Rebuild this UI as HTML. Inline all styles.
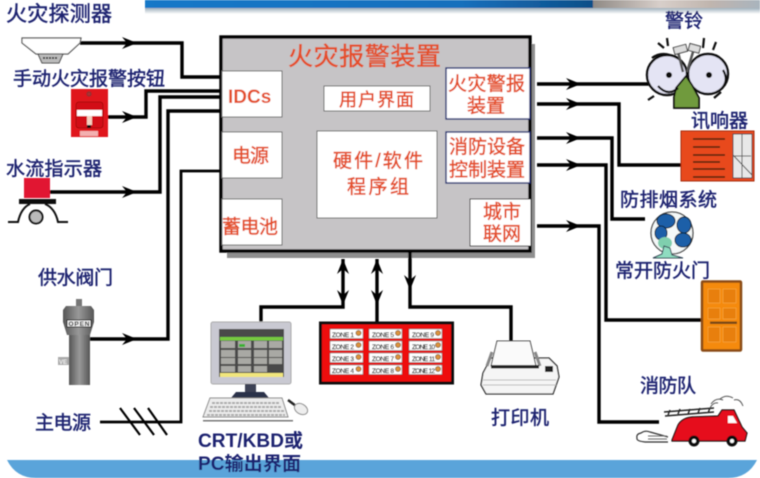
<!DOCTYPE html>
<html><head><meta charset="utf-8"><style>
html,body{margin:0;padding:0;background:#fff;width:760px;height:478px;overflow:hidden}
svg{display:block}
text{font-family:"Liberation Sans","Noto Sans CJK SC",sans-serif}
.n{fill:#1c2270;font-size:19px;stroke:#1c2270;stroke-width:.45}
.r{fill:#e4502a;font-size:19px;stroke:#e4502a;stroke-width:.5}
.w{fill:none;stroke:#000;stroke-width:3.4;stroke-linejoin:miter}
.z{font-size:6.5px;fill:#111;stroke:#111;stroke-width:.15}
</style></head><body>
<svg width="760" height="478" viewBox="0 0 760 478" xmlns="http://www.w3.org/2000/svg">
<defs>
<linearGradient id="hs" x1="0" y1="0" x2="0" y2="1"><stop offset="0" stop-color="#9fb0bd"/><stop offset="1" stop-color="#fff"/></linearGradient>
<linearGradient id="hb" x1="0" y1="0" x2="1" y2="0"><stop offset="0" stop-color="#1878c8"/><stop offset=".7" stop-color="#1670bd"/><stop offset="1" stop-color="#0f4f88"/></linearGradient>
<linearGradient id="ph" x1="0" y1="0" x2="1" y2="0"><stop offset="0" stop-color="#8f8a85"/><stop offset=".4" stop-color="#d8cfca"/><stop offset=".7" stop-color="#c0b5ae"/><stop offset="1" stop-color="#a9b4bd"/></linearGradient>
<linearGradient id="vg" x1="0" y1="0" x2="1" y2="0"><stop offset="0" stop-color="#555"/><stop offset=".5" stop-color="#999"/><stop offset="1" stop-color="#555"/></linearGradient>
<filter id="b" x="-2%" y="-2%" width="104%" height="104%"><feGaussianBlur stdDeviation="0.45"/></filter>
<path id="a" d="M0 0L-15 -6L-10 0L-15 6Z" fill="#000"/>
<path id="u" d="M0 0L-6 15L0 10L6 15Z" fill="#000"/>
</defs>
<g filter="url(#b)">
<!-- header -->
<rect x="145" y="8" width="615" height="6" fill="url(#hs)"/>
<rect x="145" y="0" width="448" height="8" fill="url(#hb)"/>
<rect x="593" y="0" width="167" height="8" fill="url(#ph)"/>
<!-- footer -->
<path d="M7 460H757Q748 478 728 478H36Q16 478 7 460Z" fill="#5aa4da"/>

<!-- main box -->
<rect x="227" y="44" width="308" height="214" fill="#8f8f8f"/>
<rect x="221" y="37" width="309" height="214" fill="#c6c4c6" stroke="#000" stroke-width="3.400"/>
<g fill="#fff" stroke="#666" stroke-width="1">
<rect x="222" y="71" width="60" height="46"/>
<rect x="222" y="132" width="60" height="46"/>
<rect x="222" y="199" width="60" height="46"/>
<rect x="324" y="86" width="106" height="25"/>
<rect x="317" y="131" width="120" height="87"/>
</g>
<g fill="#fff" stroke="#1a2a70" stroke-width="1.400">
<rect x="446" y="68" width="84" height="51"/>
<rect x="446" y="132" width="84" height="51"/>
</g>
<rect x="470" y="199" width="61" height="47" fill="#fff" stroke="#222" stroke-width="1"/>
<text class="r" x="288" y="65" style="font-size:25px" textLength="153">火灾报警装置</text>
<text x="228" y="103" style="font-size:19px;font-weight:bold;fill:#e4502a">IDCs</text>
<text class="r" x="232" y="162" textLength="37">电源</text>
<text class="r" x="222" y="233" textLength="56">蓄电池</text>
<text class="r" x="339" y="106" style="font-size:18px" textLength="75">用户界面</text>
<text class="r" x="333" y="167" textLength="90">硬件/软件</text>
<text class="r" x="347" y="193" textLength="62">程序组</text>
<text class="r" x="448" y="90" textLength="77">火灾警报</text>
<text class="r" x="467" y="112" textLength="38">装置</text>
<text class="r" x="449" y="153" textLength="76">消防设备</text>
<text class="r" x="449" y="176" textLength="76">控制装置</text>
<text class="r" x="483" y="218" textLength="38">城市</text>
<text class="r" x="483" y="240" textLength="38">联网</text>

<!-- left wires -->
<path class="w" d="M80 43H182V77H220"/>
<path class="w" d="M108 117H146V91H220"/>
<path class="w" d="M50 192H160V97H220"/>
<path class="w" d="M90 339H168V111H220"/>
<path class="w" d="M100 422H181V171H220" style="stroke-width:2.800"/>
<use href="#a" x="137" y="43"/><use href="#a" x="137" y="117"/><use href="#a" x="137" y="192"/><use href="#a" x="137" y="339"/>
<path d="M120 408L140 435M134 408L154 435M148 408L167 435" stroke="#000" stroke-width="2.200"/>

<!-- right wires -->
<path class="w" d="M537 84H650"/>
<path class="w" d="M537 104H619V165H681"/>
<path class="w" d="M537 138H612V219H645"/>
<path class="w" d="M537 165H606V320H701"/>
<path class="w" d="M537 226H599V422H659"/>
<use href="#a" x="581" y="84"/><use href="#a" x="581" y="104"/><use href="#a" x="581" y="138"/><use href="#a" x="581" y="165"/><use href="#a" x="581" y="226"/>

<!-- bottom wires -->
<path class="w" d="M343 259V307H261V323"/>
<path class="w" d="M377 259V323"/>
<path class="w" d="M410 251V307H511V342"/>
<use href="#u" x="343" y="259"/><use href="#u" x="377" y="259"/>
<use href="#u" transform="translate(343 305) rotate(180)"/>
<use href="#u" transform="translate(377 305) rotate(180)"/>
<use href="#u" transform="translate(410 290) rotate(180)"/>

<!-- detector -->
<path d="M22 38H81L80 43L68 54H36L22 43Z" fill="#fff" stroke="#555" stroke-width="1.200"/>
<path d="M38 54H63L59 63H42Z" fill="#bbb" stroke="#444"/>
<path d="M43 58H58" stroke="#333" stroke-width="2" stroke-dasharray="2 1"/>

<!-- button -->
<rect x="71" y="89" width="37" height="48" fill="#e0141c"/>
<rect x="76" y="102" width="27" height="26" rx="3" fill="#d20f14" stroke="#a80808"/>
<rect x="77" y="110" width="25" height="6" fill="#fff"/>
<rect x="87" y="116" width="5" height="9" fill="#f4d0c0"/>
<rect x="87" y="125" width="4" height="3" fill="#111"/>
<circle cx="89" cy="94" r="2.200" fill="#a33" stroke="#633" stroke-width=".6"/>
<rect x="80" y="131" width="18" height="5" fill="#f3b0b0"/>

<!-- water flow -->
<rect x="24" y="178" width="26" height="20" fill="#e11232"/>
<rect x="19" y="199" width="37" height="5" fill="#111"/>
<path d="M8 222H18Q21 208 30 204M45 204Q55 208 58 222H68" fill="none" stroke="#111" stroke-width="2"/>
<circle cx="36" cy="217" r="6.500" fill="#bbb" stroke="#111" stroke-width="2"/>

<!-- valve -->
<rect x="76" y="299" width="6" height="7" fill="#777"/>
<path d="M66 306H91L94 310V322L90 335H67L63 322V310Z" fill="url(#vg)"/>
<rect x="67" y="320" width="24" height="7" fill="#eee" stroke="#111"/>
<text x="68.500" y="326" style="font-size:6.500px;font-weight:bold;fill:#111" textLength="21">OPEN</text>
<rect x="69" y="335" width="21" height="50" fill="url(#vg)"/>
<rect x="58" y="357" width="11" height="8" fill="#aaa"/>
<text x="59" y="364" style="font-size:6px;font-weight:bold;fill:#eee">VE</text>

<!-- monitor -->
<rect x="211" y="322" width="80" height="62" rx="2" fill="#c9c9d2" stroke="#aaa"/>
<rect x="219" y="329" width="65" height="48" fill="#4a4a48"/>
<rect x="220" y="337" width="63" height="3.500" fill="#77c940"/>
<rect x="220" y="373" width="63" height="4" fill="#f1e67d"/>
<g fill="#a9a9a4">
<rect x="221" y="341" width="14" height="7"/><rect x="238" y="341" width="13" height="7"/><rect x="254" y="341" width="13" height="7"/><rect x="269" y="341" width="13" height="7"/>
<rect x="221" y="350" width="14" height="7"/><rect x="238" y="350" width="13" height="7"/><rect x="254" y="350" width="13" height="7"/><rect x="269" y="350" width="13" height="7"/>
<rect x="221" y="358" width="14" height="6"/><rect x="238" y="358" width="13" height="6"/><rect x="254" y="358" width="13" height="6"/><rect x="269" y="358" width="13" height="6"/>
<rect x="221" y="366" width="14" height="6"/><rect x="238" y="366" width="13" height="6"/><rect x="254" y="366" width="13" height="6"/>
</g>
<rect x="239" y="344" width="6" height="3" fill="#3ab030"/>
<rect x="245" y="384" width="11" height="8" fill="#3d4354"/>
<path d="M236 392H264L269 398H231Z" fill="#29304a"/>
<path d="M210 398H282L288 417H203Z" fill="#ececec" stroke="#888"/>
<path d="M212 403H280M210 407H282M209 411H284M207 415H285" stroke="#aaa" stroke-width="2" stroke-dasharray="3 1"/>
<rect x="203" y="420" width="90" height="1.500" fill="#777"/>
<path d="M288 400L296 406" stroke="#222" stroke-width="2.500"/>
<ellipse cx="301" cy="409" rx="7" ry="5" transform="rotate(30 301 409)" fill="#eee" stroke="#888"/>

<!-- zone panel -->
<rect x="320.500" y="323" width="132" height="60" fill="#ee0a0a" stroke="#111" stroke-width="3"/>
<g fill="#fff" stroke="#555" stroke-width=".5">
<rect x="330" y="329" width="33" height="9.500"/><rect x="369" y="329" width="33" height="9.500"/><rect x="409" y="329" width="33" height="9.500"/>
<rect x="330" y="341" width="33" height="9.500"/><rect x="369" y="341" width="33" height="9.500"/><rect x="409" y="341" width="33" height="9.500"/>
<rect x="330" y="353" width="33" height="9.500"/><rect x="369" y="353" width="33" height="9.500"/><rect x="409" y="353" width="33" height="9.500"/>
<rect x="330" y="365" width="33" height="9.500"/><rect x="369" y="365" width="33" height="9.500"/><rect x="409" y="365" width="33" height="9.500"/>
</g>
<g>
<text class="z" x="332" y="337" textLength="22">ZONE 1</text><text class="z" x="372" y="337" textLength="22">ZONE 5</text><text class="z" x="412" y="337" textLength="22">ZONE 9</text>
<text class="z" x="332" y="349" textLength="22">ZONE 2</text><text class="z" x="372" y="349" textLength="22">ZONE 6</text><text class="z" x="412" y="349" textLength="23">ZONE 10</text>
<text class="z" x="332" y="361" textLength="22">ZONE 3</text><text class="z" x="372" y="361" textLength="22">ZONE 7</text><text class="z" x="412" y="361" textLength="23">ZONE 11</text>
<text class="z" x="332" y="373" textLength="22">ZONE 4</text><text class="z" x="372" y="373" textLength="22">ZONE 8</text><text class="z" x="412" y="373" textLength="23">ZONE 12</text>
</g>
<g fill="#d9923c" stroke="#6b4a20" stroke-width=".6">
<circle cx="358.500" cy="333" r="2.600"/><circle cx="398" cy="333" r="2.600"/><circle cx="438" cy="333" r="2.600"/>
<circle cx="358.500" cy="345" r="2.600"/><circle cx="398" cy="345" r="2.600"/><circle cx="438" cy="345" r="2.600"/>
<circle cx="358.500" cy="357" r="2.600"/><circle cx="398" cy="357" r="2.600"/><circle cx="438" cy="357" r="2.600"/>
<circle cx="358.500" cy="369" r="2.600"/><circle cx="398" cy="369" r="2.600"/><circle cx="438" cy="369" r="2.600"/>
</g>

<!-- printer -->
<path d="M483 373L491 358H549L557 366L559 377L553 394H486L481 385Z" fill="#f5f5f5" stroke="#222" stroke-width="1.300"/>
<path d="M497 341H530L536 366H491Z" fill="#fafafa" stroke="#333"/>
<path d="M492 352L487 366M535 352L540 366" stroke="#888" stroke-width="3"/>
<rect x="491" y="365" width="48" height="3.500" fill="#222"/>
<path d="M483 380H556M483 385H556" stroke="#bbb"/>
<rect x="545" y="366" width="8" height="6" fill="#222"/>

<!-- bell -->
<circle cx="667" cy="75" r="20" fill="#e4e4f4" stroke="#111" stroke-width="2.400"/>
<circle cx="708" cy="74" r="20" fill="#e4e4f4" stroke="#111" stroke-width="2.400"/>
<path d="M676 88L686 76L692 85L699 98V108H674V97Z" fill="#6f9a3c" stroke="#111" stroke-width="1.800"/>
<path d="M683 72L678 52M687 72L693 52" stroke="#555" stroke-width="2.500"/>
<rect x="674" y="46" width="13" height="7" fill="#ddd" stroke="#333" transform="rotate(-15 680 50)"/>
<rect x="689" y="45" width="11" height="7" fill="#ddd" stroke="#333" transform="rotate(15 695 48)"/>
<path d="M668 46L667 38M703 48L704 38M713 50L716 42M664 48L658 43" stroke="#111" stroke-width="2.200"/>
<path d="M658 86Q668 97 678 88M721 92L714 98M723 70Q729 80 722 88M652 58Q660 52 670 55M648 100L654 96" fill="none" stroke="#111" stroke-width="2.200"/>
<circle cx="669" cy="75" r="3" fill="#111"/><circle cx="709" cy="75" r="3" fill="#111"/>

<!-- sounder -->
<rect x="681" y="131" width="73" height="50" fill="#e84a1d" stroke="#a32a10"/>
<rect x="733" y="134" width="19" height="44" fill="#e8e8e8" stroke="#444"/>
<path d="M733 155L752 175M742 134V178M734 156H751" stroke="#555" fill="none"/>
<path d="M693 139H725M693 147H720M693 155H725M693 162H720M693 169H725M693 177H725" stroke="#421" stroke-width="1.500"/>

<!-- fan -->
<circle cx="672" cy="233" r="21" fill="#f4f8f8" stroke="#444" stroke-width="1.300"/>
<g fill="#1a5fa8" stroke="#123">
<ellipse cx="666" cy="221" rx="9" ry="7"/>
<ellipse cx="684" cy="225" rx="7" ry="8"/>
<ellipse cx="683" cy="240" rx="8" ry="7"/>
<ellipse cx="661" cy="233" rx="6" ry="7"/>
</g>
<ellipse cx="665" cy="243" rx="7" ry="6" fill="#7fcfae"/>
<path d="M664 246L670 248L672 255L683 258H653L662 254Z" fill="#8fdcc0" stroke="#345"/>

<!-- door -->
<rect x="702" y="281.500" width="39" height="69" rx="1" fill="#f58a0a" stroke="#8a4c12" stroke-width="2.500"/>
<g fill="#e87f08" stroke="#f7a540" stroke-width=".7">
<rect x="708" y="289" width="12" height="14"/><rect x="723" y="289" width="13" height="14"/>
<rect x="708" y="308" width="12" height="11"/><rect x="723" y="308" width="13" height="11"/>
<rect x="708" y="327" width="12" height="15"/><rect x="723" y="327" width="13" height="15"/>
</g>
<rect x="710" y="321.500" width="27" height="2.500" fill="#7a4a14"/>

<!-- truck -->
<path d="M672 440L678 425Q682 418 692 417L718 416L722 410H734L742 427L747 433L745 441H672Z" fill="#e6101f" stroke="#111" stroke-width="1.200"/>
<path d="M728 416H733L737 423H728Z" fill="#fff"/>
<path d="M664 412L714 408M665 416L714 412M670 410L668 415M680 409L678 414M690 409L688 414M700 408L698 413M710 408L708 413" stroke="#222" stroke-width="1.400"/>
<circle cx="694" cy="441" r="5.500" fill="#111"/><circle cx="694" cy="441" r="2" fill="#fff"/>
<circle cx="732" cy="441" r="5.500" fill="#111"/><circle cx="732" cy="441" r="2" fill="#fff"/>
<path d="M711 404Q716 397 723 400M720 399Q726 394 733 398M734 400Q740 398 743 406M710 408Q713 402 718 403" fill="none" stroke="#555"/>
<path d="M668 442H645Q636 441 637 438Q636 434 641 433Q645 430 650 432L668 437" fill="none" stroke="#333" stroke-width="1.200"/>
<path d="M648 436H667M648 439H667" stroke="#666"/>

<!-- labels -->
<text class="n" x="6" y="21" style="font-size:21px" textLength="106">火灾探测器</text>
<text class="n" x="13" y="85" textLength="152">手动火灾报警按钮</text>
<text class="n" x="6" y="175" textLength="96">水流指示器</text>
<text class="n" x="38" y="284" textLength="75">供水阀门</text>
<text class="n" x="35" y="429" textLength="56">主电源</text>
<text x="198" y="447" style="font-size:19px;font-weight:bold;fill:#1c2270" textLength="105">CRT/KBD或</text>
<text x="198" y="470" style="font-size:19px;font-weight:bold;fill:#1c2270" textLength="103">PC输出界面</text>
<text class="n" x="665" y="27" textLength="38">警铃</text>
<text class="n" x="691" y="127" textLength="57">讯响器</text>
<text class="n" x="620" y="206" textLength="97">防排烟系统</text>
<text class="n" x="615" y="277" textLength="95">常开防火门</text>
<text class="n" x="640" y="392" textLength="56">消防队</text>
<text class="n" x="491" y="424" textLength="58">打印机</text>
</g>
</svg>
</body></html>
